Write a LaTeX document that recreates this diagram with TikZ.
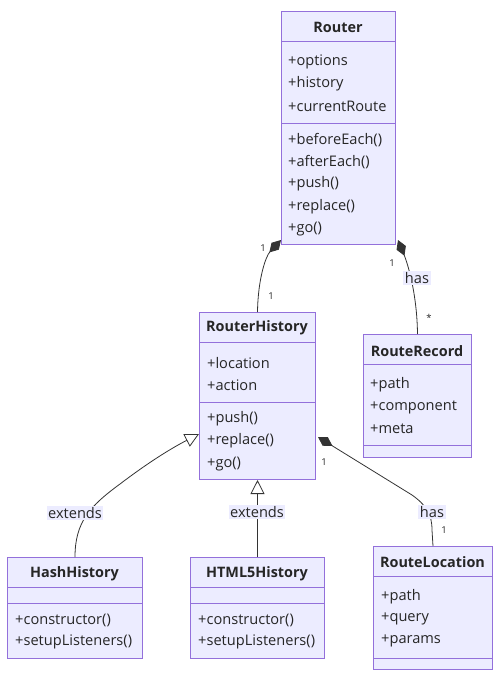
\documentclass[tikz,border=0pt]{standalone}
\usepackage{fontspec}
\setmainfont{Open Sans}
\usetikzlibrary{arrows.meta,calc}
\definecolor{boxfill}{HTML}{ECECFF}
\definecolor{boxline}{HTML}{9370DB}
\definecolor{edgecol}{HTML}{333333}
\begin{document}
\begin{tikzpicture}[x=1pt,y=-1pt,
 box/.style={draw=boxline, fill=boxfill, line width=1pt, inner sep=0pt, anchor=north west},
 title/.style={font=\bfseries\fontsize{14.4}{16}\selectfont, text=black!85, anchor=center, inner sep=0pt},
 member/.style={font=\fontsize{14.6}{16}\selectfont, anchor=west, inner sep=0pt, text=black!85},
 sepline/.style={draw=boxline, line width=1pt},
 rel/.style={draw=edgecol, line width=0.8pt},
 mult/.style={font=\fontsize{9.5}{10}\selectfont, inner sep=1pt, text=black!85},
 lbl/.style={font=\fontsize{14.6}{16}\selectfont, fill=boxfill, inner sep=1.5pt, text=black!85},
 comp/.style={-{Diamond[length=17pt,width=10pt]}},
 inh/.style={-{Triangle[open,length=14pt,width=14pt,fill=white]}}
]
\useasboundingbox (0,0) rectangle (500,680);
\fill[white] (0,0) rectangle (500,680);

% ---------- Router ----------
\node[box, minimum width=114pt, minimum height=233pt] (router) at (281,11) {};
\draw[sepline] (281,41) -- (395,41);
\draw[sepline] (281,123) -- (395,123);
\node[title] (routerT) at (338,27) {Router};
\node[member] (r1) at (288,62) {+options};
\node[member] (r2) at (288,84) {+history};
\node[member] (r3) at (288,106) {+currentRoute};
\node[member] (r4) at (288,140) {+beforeEach()};
\node[member] (r5) at (288,162) {+afterEach()};
\node[member] (r6) at (288,184) {+push()};
\node[member] (r7) at (288,207) {+replace()};
\node[member] (r8) at (288,229) {+go()};

% ---------- RouterHistory ----------
\node[box, minimum width=116pt, minimum height=167pt] (rh) at (199,312) {};
\draw[sepline] (199,342) -- (315,342);
\draw[sepline] (199,402) -- (315,402);
\node[title] (rhT) at (257,328) {RouterHistory};
\node[member] (h1) at (207,363) {+location};
\node[member] (h2) at (207,385) {+action};
\node[member] (h3) at (207,419) {+push()};
\node[member] (h4) at (207,441) {+replace()};
\node[member] (h5m) at (207,464) {+go()};

% ---------- RouteRecord ----------
\node[box, minimum width=108pt, minimum height=123pt] (rr) at (363,334) {};
\draw[sepline] (363,364) -- (471,364);
\draw[sepline] (363,445) -- (471,445);
\node[title] (rrT) at (417,351) {RouteRecord};
\node[member] (q1) at (370,385) {+path};
\node[member] (q2) at (370,407) {+component};
\node[member] (q3) at (370,429) {+meta};

% ---------- HashHistory ----------
\node[box, minimum width=135pt, minimum height=101pt] (hh) at (7,557) {};
\draw[sepline] (7,587) -- (142,587);
\draw[sepline] (7,603) -- (142,603);
\node[title] (hhT) at (74.5,574) {HashHistory};
\node[member] (a1) at (15,620) {+constructor()};
\node[member] (a2) at (15,642) {+setupListeners()};

% ---------- HTML5History ----------
\node[box, minimum width=134pt, minimum height=101pt] (h5) at (190,557) {};
\draw[sepline] (190,587) -- (324,587);
\draw[sepline] (190,603) -- (324,603);
\node[title] (h5T) at (257,574) {HTML5History};
\node[member] (b1) at (198,620) {+constructor()};
\node[member] (b2) at (198,642) {+setupListeners()};

% ---------- RouteLocation ----------
\node[box, minimum width=119pt, minimum height=123pt] (rl) at (373,546) {};
\draw[sepline] (373,576) -- (492,576);
\draw[sepline] (373,658) -- (492,658);
\node[title] (rlT) at (432.5,562) {RouteLocation};
\node[member] (c1) at (381,597) {+path};
\node[member] (c2) at (381,619) {+query};
\node[member] (c3) at (381,641) {+params};

% ---------- connectors ----------
\coordinate (routerSW) at ($(router.south west)+(0,-5)$);
\coordinate (routerSE) at ($(router.south east)+(2,-5)$);
\coordinate (rhE) at ($(rh.south east)+(2,-43)$);
\coordinate (rhW) at ($(rh.south west)+(0,-46)$);

\draw[rel,comp] (rh.north) .. controls (258,278) and (266,256) .. (routerSW);
\draw[rel,comp] (rr.north) .. controls (417,292) and (407,262) .. (routerSE);
\draw[rel,comp] (rl.north) -- (432,530) .. controls (432,514) and (426,505) .. (412,495) -- (rhE);
\draw[rel,inh] (hh.north) .. controls (75,522) and (90,506) .. (120,484) .. controls (145,465) and (168,450) .. (rhW);
\draw[rel,inh] (h5.north) -- (rh.south);

% ---------- labels ----------
\node[lbl] (l1) at (417,278) {has};
\node[lbl] (l2) at (432,512) {has};
\node[lbl] (l3) at (75,513) {extends};
\node[lbl] (l4) at (257,512) {extends};

\node[mult] (m1) at (263,248) {1};
\node[mult] (m2) at (271,296) {1};
\node[mult] (m3) at (392,263) {1};
\node[mult] (m4) at (429,318) {*};
\node[mult] (m5) at (324,462) {1};
\node[mult] (m6) at (444,530) {1};
\end{tikzpicture}
\end{document}
